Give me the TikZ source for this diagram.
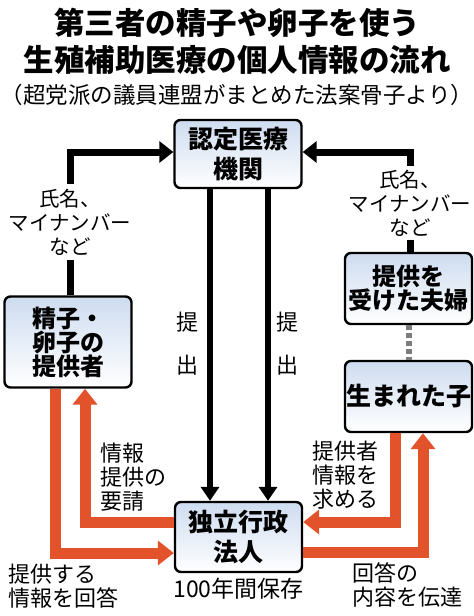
\documentclass[tikz,border=0pt]{standalone}
\usepackage{fontspec}
\setmainfont{Noto Sans CJK JP}
\usepackage{tikz}
\usetikzlibrary{
    positioning,
    arrows.meta
}

\definecolor{boxblue}{RGB}{206,220,240}
\definecolor{replyred}{RGB}{226,82,43}
\definecolor{linkgray}{RGB}{125,125,125}

\begin{document}
\begin{tikzpicture}[
    x=1pt, y=-1pt,
    party/.style={
        rectangle,
        rounded corners=6pt,
        draw,
        line width=2.4pt,
        top color=boxblue,
        bottom color=white,
        align=center,
        minimum width=127pt,
        inner sep=0pt,
        font=\fontsize{25}{30}\selectfont\bfseries
    },
    note/.style={align=center, inner sep=0pt, font=\fontsize{22}{24}\selectfont},
    idnote/.style={note, fill=white, inner xsep=0pt, inner ysep=5pt,
        font=\fontsize{20.5}{24}\selectfont},
    flow/.style={-{Triangle[length=14pt,width=21pt]}, line width=7pt},
    submit/.style={-{Triangle[length=14pt,width=18pt]}, line width=6pt},
    reply/.style={-{Triangle[length=16pt,width=24pt]}, line width=11pt, color=replyred},
    pairing/.style={line width=6pt, color=linkgray, dash pattern=on 5pt off 3pt}
]
\useasboundingbox (0,0) rectangle (474,616);

% title
\node[font=\fontsize{30.5}{30}\selectfont\bfseries] (title) at (237,23)
    {第三者の精子や卵子を使う};
\node[font=\fontsize{30.5}{30}\selectfont\bfseries] (subject) at (237,60)
    {生殖補助医療の個人情報の流れ};
\node[font=\fontsize{22.5}{22}\selectfont] (source) at (237,95)
    {（超党派の議員連盟がまとめた法案骨子より）};

% parties
\node[party, minimum height=68pt] (clinic) at (238,154)
    {認定医療\\機関};
\node[party, minimum height=91pt, font=\fontsize{24}{24}\selectfont\bfseries]
    (donor) at (68,342) {精子・\\卵子の\\提供者};
\node[party, minimum height=71pt, font=\fontsize{24}{24}\selectfont\bfseries]
    (couple) at (408.5,288.5) {提供を\\受けた夫婦};
\node[party, minimum height=71pt] (child) at (408.5,396.5)
    {生まれた子};
\node[party, minimum height=70pt] (agency) at (238.5,537)
    {独立行政\\法人};
\node[note, below=5pt of agency, font=\fontsize{23}{24}\selectfont] (keep)
    {100年間保存};

% names to the clinic
\draw[flow] ([xshift=2pt]donor.north) |- ([yshift=2pt]clinic.west);
\draw[flow] ([xshift=1.5pt]couple.north) |- ([yshift=2pt]clinic.east);
\node[idnote] (idleft) at (70,222)
    {氏名、\\マイナンバー\\など};
\node[idnote, inner ysep=4pt] (idright) at (410,203)
    {氏名、\\マイナンバー\\など};

% submission
\draw[submit] ([xshift=-28pt]clinic.south) -- ([xshift=-28.5pt]agency.north);
\draw[submit] ([xshift=30pt]clinic.south) -- ([xshift=29.5pt]agency.north);
\node[note] (sub1) at (187,322) {提};
\node[note] (sub2) at (187,365) {出};
\node[note] (sub3) at (287,322) {提};
\node[note] (sub4) at (287,365) {出};

% couple and child
\draw[pairing] (couple.south) -- (child.north);

% disclosure
\draw[reply] ([xshift=-13pt]donor.south) |- ([yshift=-16pt]agency.west);
\draw[reply] ([yshift=15pt]agency.west) -| ([xshift=17pt]donor.south);
\draw[reply] ([xshift=-13.5pt]child.south) |- ([yshift=15pt]agency.east);
\draw[reply] ([yshift=-15pt]agency.east) -| ([xshift=14.5pt]child.south);

\node[note, align=left, anchor=west] (ask) at (100,477)
    {情報\\提供の\\要請};
\node[note, align=left, anchor=west] (answer) at (8,586)
    {提供する\\情報を回答};
\node[note, align=left, anchor=west] (seek) at (312,475)
    {提供者\\情報を\\求める};
\node[note, align=left, anchor=west] (relay) at (352,585)
    {回答の\\内容を伝達};

\end{tikzpicture}
\end{document}
